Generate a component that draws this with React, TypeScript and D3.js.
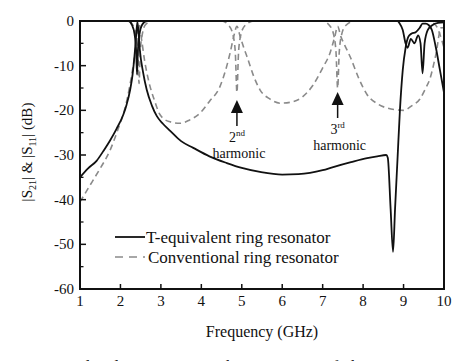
import React, { useEffect, useRef } from 'react';
import * as d3 from 'd3';

// frequency (GHz), dB
const tS21: [number, number][] = [
  [1.0, -35], [1.2, -33], [1.41, -31.3], [1.6, -28.8], [1.74, -26.8], [1.9, -24.2], [2.07, -21], [2.15, -18.8],
  [2.24, -15.4], [2.3, -12], [2.36, -6.5], [2.39, -3], [2.42, -0.2], [2.45, -3], [2.48, -6.5], [2.56, -11.5],
  [2.65, -15.4], [2.78, -19], [2.9, -21.3], [3.05, -23], [3.23, -24.6], [3.5, -26.9], [3.8, -28.4], [4.2, -30.3],
  [4.63, -31.8], [5.0, -32.9], [5.45, -33.8], [6.0, -34.4], [6.4, -34.3], [7.0, -33.4], [7.26, -32.7], [7.7, -31.6],
  [8.1, -30.7], [8.35, -30.3], [8.57, -30], [8.61, -30.6], [8.68, -42], [8.74, -51.7], [8.79, -42], [8.85, -31],
  [8.91, -20], [8.98, -11], [9.05, -6], [9.12, -3.5], [9.2, -2.8], [9.3, -2.5], [9.4, -1.5], [9.47, -0.6],
  [9.55, -0.6], [9.62, -0.9], [9.7, -2], [9.8, -6], [9.9, -11], [10, -16]
];

const tS11: [number, number][] = [
  [1.0, 0], [2.2, 0], [2.28, -0.8], [2.35, -3], [2.39, -7], [2.41, -12], [2.43, -7], [2.47, -3], [2.54, -0.8],
  [2.65, 0], [8.85, 0], [8.9, -0.5], [8.98, -2], [9.05, -5], [9.1, -6], [9.18, -4], [9.27, -5], [9.36, -3.2],
  [9.42, -5], [9.47, -11.7], [9.52, -5], [9.6, -2], [9.7, -1], [9.85, -0.4], [10, -0.3]
];

const cS21: [number, number][] = [
  [1.0, -40.5], [1.3, -36], [1.5, -33], [1.74, -29], [1.91, -25], [2.16, -17.7], [2.31, -10.3], [2.4, -4.5],
  [2.46, -0.8], [2.52, -4], [2.6, -9], [2.7, -13.5], [2.85, -18], [2.98, -21], [3.2, -22.5], [3.47, -22.9],
  [3.7, -22.2], [3.97, -20.6], [4.2, -18], [4.46, -14.7], [4.6, -11], [4.71, -7.2], [4.8, -3.5], [4.88, -1.2],
  [4.96, -3.5], [5.05, -6], [5.13, -8], [5.3, -12.5], [5.45, -15.4], [5.7, -17.5], [5.95, -18.4], [6.2, -18.2],
  [6.5, -17], [6.75, -14.5], [7.0, -10.5], [7.18, -7.2], [7.3, -3.5], [7.37, -1.2], [7.45, -3.5], [7.55, -5.5],
  [7.68, -8], [7.9, -13], [8.1, -16.5], [8.35, -18.5], [8.6, -19.5], [9.0, -20], [9.2, -19], [9.4, -17.5],
  [9.55, -15], [9.65, -13], [9.75, -9.5], [9.82, -6.5], [9.88, -3], [9.93, -1.5], [10, -1.5]
];

const cS11: [number, number][] = [
  [1.0, 0], [2.2, 0], [2.3, -0.8], [2.38, -3], [2.43, -7], [2.46, -14], [2.49, -7], [2.54, -3], [2.62, -0.8],
  [2.8, 0], [4.5, 0], [4.68, -1], [4.78, -3], [4.84, -7], [4.88, -16], [4.92, -7], [4.98, -3], [5.08, -1],
  [5.3, 0], [7.0, 0], [7.17, -1], [7.27, -3], [7.33, -7], [7.37, -15], [7.41, -7], [7.47, -3], [7.57, -1],
  [7.8, 0], [9.6, 0], [9.8, -1], [9.9, -3], [10, -6]
];

const xTicks = [1, 2, 3, 4, 5, 6, 7, 8, 9, 10];
const yTicks = [0, -10, -20, -30, -40, -50, -60];
const yMinor = [-5, -15, -25, -35, -45, -55];

const harmonics = [
  { f: 4.88, tip: -17.7, num: '2', sup: 'nd' },
  { f: 7.37, tip: -15.9, num: '3', sup: 'rd' }
];

const legendItems = ['T-equivalent ring resonator', 'Conventional ring resonator'];
const caption = 'Fig. 3    Simulated S-parameter characteristics of the';

const W = 474;
const H = 361;
const FONT = "'Liberation Serif', 'DejaVu Serif', serif";

export default function App() {
  const ref = useRef<SVGSVGElement>(null);

  useEffect(() => {
    document.body.style.margin = '0';
    const svg = d3.select(ref.current);
    svg.selectAll('*').remove();

    const x = d3.scaleLinear().domain([1, 10]).range([80, 444]);
    const y = d3.scaleLinear().domain([-60, 0]).range([289, 21]);

    const line = d3.line<[number, number]>()
      .x(d => x(d[0]))
      .y(d => y(d[1]))
      .curve(d3.curveMonotoneX);

    const plot = svg.append('g');

    // conventional (dashed grey)
    [cS21, cS11].forEach(s => {
      plot.append('path').attr('d', line(s)).attr('fill', 'none')
        .attr('stroke', '#8a8a8a').attr('stroke-width', 1.6).attr('stroke-dasharray', '6,4');
    });
    // T-equivalent (solid black)
    [tS21, tS11].forEach(s => {
      plot.append('path').attr('d', line(s)).attr('fill', 'none')
        .attr('stroke', '#111').attr('stroke-width', 1.8);
    });

    // frame
    svg.append('rect')
      .attr('x', x(1)).attr('y', y(0))
      .attr('width', x(10) - x(1)).attr('height', y(-60) - y(0))
      .attr('fill', 'none').attr('stroke', '#111').attr('stroke-width', 2);

    const txt = (sel: any) => sel.style('font-family', FONT).attr('fill', '#111');

    // y ticks
    yTicks.forEach(v => {
      svg.append('line').attr('x1', x(1)).attr('x2', x(1) + 6)
        .attr('y1', y(v)).attr('y2', y(v)).attr('stroke', '#111').attr('stroke-width', 1.5);
      svg.append('text').attr('x', x(1) - 6).attr('y', y(v) + 5)
        .attr('text-anchor', 'end').attr('font-size', 15).call(txt).text(v);
    });
    yMinor.forEach(v => {
      svg.append('line').attr('x1', x(1)).attr('x2', x(1) + 3.5)
        .attr('y1', y(v)).attr('y2', y(v)).attr('stroke', '#111').attr('stroke-width', 1.3);
    });

    // x ticks
    xTicks.forEach(v => {
      svg.append('line').attr('x1', x(v)).attr('x2', x(v))
        .attr('y1', y(-60)).attr('y2', y(-60) - 5).attr('stroke', '#111').attr('stroke-width', 1.5);
      svg.append('text').attr('x', x(v)).attr('y', 306)
        .attr('text-anchor', 'middle').attr('font-size', 15).call(txt).text(v);
    });

    svg.append('text').attr('x', (x(1) + x(10)) / 2).attr('y', 337)
      .attr('text-anchor', 'middle').attr('font-size', 16).call(txt).text('Frequency (GHz)');

    // y label
    const yl = svg.append('text')
      .attr('transform', 'translate(32,152) rotate(-90)')
      .attr('text-anchor', 'middle').attr('font-size', 15).call(txt);
    yl.append('tspan').text('|S');
    yl.append('tspan').attr('font-size', 10).attr('dy', 4).text('21');
    yl.append('tspan').attr('dy', -4).text('| & |S');
    yl.append('tspan').attr('font-size', 10).attr('dy', 4).text('11');
    yl.append('tspan').attr('dy', -4).text('| (dB)');

    // harmonic arrows
    harmonics.forEach(h => {
      const cx = x(h.f);
      const top = y(h.tip);
      svg.append('path')
        .attr('d', `M${cx},${top} L${cx - 6},${top + 13} L${cx + 6},${top + 13} Z`)
        .attr('fill', '#111');
      svg.append('line').attr('x1', cx).attr('x2', cx).attr('y1', top + 12).attr('y2', top + 26)
        .attr('stroke', '#111').attr('stroke-width', 1.5);
      const t = svg.append('text').attr('x', cx).attr('y', top + 42)
        .attr('text-anchor', 'middle').attr('font-size', 14).call(txt);
      t.append('tspan').text(h.num);
      t.append('tspan').attr('font-size', 9).attr('dy', -6).text(h.sup);
      svg.append('text').attr('x', cx + 2).attr('y', top + 58)
        .attr('text-anchor', 'middle').attr('font-size', 14).call(txt).text('harmonic');
    });

    // legend
    legendItems.forEach((label, i) => {
      const ly = 237 + i * 20;
      svg.append('line').attr('x1', 115).attr('x2', 145).attr('y1', ly).attr('y2', ly)
        .attr('stroke', i === 0 ? '#111' : '#8a8a8a').attr('stroke-width', i === 0 ? 1.8 : 1.6)
        .attr('stroke-dasharray', i === 0 ? null : '8,6');
      svg.append('text').attr('x', i === 0 ? 146 : 148).attr('y', ly + 6)
        .attr('font-size', 17).call(txt).text(label);
    });

    // figure caption, cut off by the bottom edge
    svg.append('text').attr('x', -2).attr('y', 372)
      .attr('font-size', 17).attr('word-spacing', 4).call(txt).text(caption);
  }, []);

  return <svg ref={ref} width={W} height={H} style={{ display: 'block', background: '#fff' }} />;
}
